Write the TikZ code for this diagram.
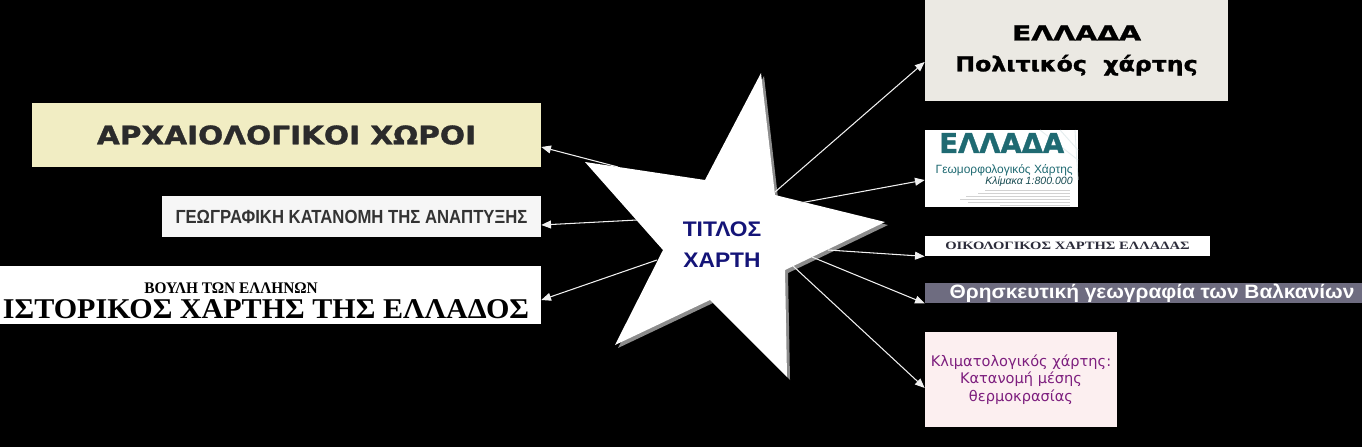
\documentclass[tikz,border=0pt]{standalone}
\usepackage{fontspec}
\setmainfont{Liberation Sans}
\newfontfamily\dejavu{DejaVu Sans}
\newfontfamily\heavy{DejaVu Sans Bold}[FakeBold=1.3]
\newfontfamily\serifgr{Liberation Serif}
\usetikzlibrary{arrows.meta}

\definecolor{polbg}{HTML}{EBE9E3}
\definecolor{geoteal}{HTML}{1F6A72}
\definecolor{oiktext}{HTML}{2C2C3A}
\definecolor{thrbg}{HTML}{6E6C80}
\definecolor{klimbg}{HTML}{FCEFF0}
\definecolor{klimtext}{HTML}{7D1E7E}
\definecolor{arxbg}{HTML}{F1EDC3}
\definecolor{arxtext}{HTML}{2B2B2B}
\definecolor{geogbg}{HTML}{F6F6F6}
\definecolor{geogtext}{HTML}{333333}
\definecolor{titleblue}{HTML}{141478}
\definecolor{starshade}{HTML}{8C8C8C}

\begin{document}
\begin{tikzpicture}[x=0.02cm,y=-0.02cm,
        mapbox/.style={rectangle,inner sep=0pt,align=center},
        plain/.style={inner sep=0pt},
        link/.style={draw=white!88!gray,line width=0.6pt,-{Triangle[length=5.5pt,width=4.5pt]}}]

    \useasboundingbox (0,0) rectangle (1362,447);
    \fill[black] (0,0) rectangle (1362,447);

    \foreach \dx/\col in {3/starshade,0/white}
        \fill[\col,shift={(\dx,\dx)}] (761,73) -- (775,195) -- (885,222) -- (785,270) -- (787,377)
            -- (710,300) -- (615,345) -- (663,250) -- (585,162) -- (705,180) -- cycle;

    \node[font=\bfseries\fontsize{12}{17.6}\selectfont,text=titleblue,align=center] (title) at (722,245)
        {\scalebox{1.08}[1]{ΤΙΤΛΟΣ}\\\scalebox{1.08}[1]{ΧΑΡΤΗ}};

    \node[mapbox,fill=polbg,minimum width=6.06cm,minimum height=2.02cm,
        font=\heavy\fontsize{11.7}{17.6}\selectfont] (pol) at (1076.5,50.5)
        {\scalebox{1.38}[1]{ΕΛΛΑΔΑ}\\\scalebox{1.15}[1]{Πολιτικός\ \ χάρτης}};

    \node[mapbox,fill=white,minimum width=3.06cm,minimum height=1.54cm] (geo) at (1001.5,168.5) {};
    \foreach \a/\b in {1040/160,1060/150,1075/180}
        \draw[geoteal!12,line width=0.5pt] (\a,130) -- (1078,\b);
    \foreach \y/\l in {190/985,193/978,196/966,199/960,202/968,205/1000}
        \draw[gray!35,line width=0.5pt] (\l,\y) -- (1070,\y);
    \node[plain,anchor=west,text=geoteal,font=\heavy\fontsize{15.6}{16}\selectfont] (geotitle) at (939,143) {ΕΛΛΑΔΑ};
    \node[plain,anchor=east,text=geoteal,font=\fontsize{6.8}{8}\selectfont] (geosub) at (1073,170) {Γεωμορφολογικός Χάρτης};
    \node[plain,anchor=east,text=geoteal!70!black,font=\itshape\fontsize{6}{7}\selectfont] (geoscale) at (1073,182) {Κλίμακα 1:800.000};

    \node[mapbox,fill=white,minimum width=5.7cm,minimum height=0.4cm,text=oiktext,
        font=\serifgr\bfseries\fontsize{6.4}{7}\selectfont] (oik) at (1067.5,246)
        {\scalebox{1.3}[1]{ΟΙΚΟΛΟΓΙΚΟΣ ΧΑΡΤΗΣ ΕΛΛΑΔΑΣ}};

    \node[mapbox,fill=thrbg,minimum width=8.74cm,minimum height=0.4cm,text=white,
        font=\bfseries\fontsize{11}{12}\selectfont] (thr) at (1143.5,293)
        {\hspace*{0.34cm}\scalebox{1.08}[1]{Θρησκευτική γεωγραφία των Βαλκανίων}};

    \node[mapbox,fill=klimbg,minimum width=3.84cm,minimum height=1.9cm,text=klimtext,
        font=\dejavu\fontsize{8.3}{9.9}\selectfont] (klim) at (1021,379.5)
        {Κλιματολογικός χάρτης:\\Κατανομή μέσης\\θερμοκρασίας};

    \node[mapbox,fill=arxbg,minimum width=10.18cm,minimum height=1.28cm,text=arxtext,
        font=\heavy\fontsize{14.5}{16}\selectfont] (arx) at (286.5,135)
        {\scalebox{1.16}[1]{ΑΡΧΑΙΟΛΟΓΙΚΟΙ ΧΩΡΟΙ}};

    \node[mapbox,fill=geogbg,minimum width=7.58cm,minimum height=0.82cm,text=geogtext,
        font=\bfseries\fontsize{10.8}{12}\selectfont] (geog) at (351.5,216.5)
        {\scalebox{0.88}[1]{ΓΕΩΓΡΑΦΙΚΗ ΚΑΤΑΝΟΜΗ ΤΗΣ ΑΝΑΠΤΥΞΗΣ}};

    \node[mapbox,fill=white,minimum width=10.82cm,minimum height=1.16cm] (voul) at (270.5,295) {};
    \node[plain,font=\serifgr\bfseries\fontsize{9.2}{10}\selectfont] (voultop) at (231,288)
        {\scalebox{0.95}[1]{ΒΟΥΛΗ ΤΩΝ ΕΛΛΗΝΩΝ}};
    \node[plain,font=\serifgr\bfseries\fontsize{16.3}{18}\selectfont] (voulbottom) at (266,309)
        {\scalebox{1.05}[1]{ΙΣΤΟΡΙΚΟΣ ΧΑΡΤΗΣ ΤΗΣ ΕΛΛΑΔΟΣ}};

    \coordinate (star-pol) at (775,192);
    \coordinate (star-geo) at (800,203);
    \coordinate (star-oik) at (828,250);
    \coordinate (star-thr) at (812,257);
    \coordinate (star-klim) at (793,266);
    \coordinate (star-arx) at (618,167);
    \coordinate (star-geog) at (637,220);
    \coordinate (star-voul) at (657,260);

    \draw[link] (star-pol) -- ([yshift=-0.23cm]pol.west);
    \draw[link] (star-geo) -- ([yshift=-0.23cm]geo.west);
    \draw[link] (star-oik) -- (oik.south west);
    \draw[link] (star-thr) -- (thr.south west);
    \draw[link] (star-klim) -- ([yshift=-0.17cm]klim.west);
    \draw[link] (star-arx) -- ([yshift=-0.24cm]arx.east);
    \draw[link] (star-geog) -- ([yshift=-0.17cm]geog.east);
    \draw[link] (star-voul) -- ([yshift=-0.1cm]voul.east);
\end{tikzpicture}
\end{document}
